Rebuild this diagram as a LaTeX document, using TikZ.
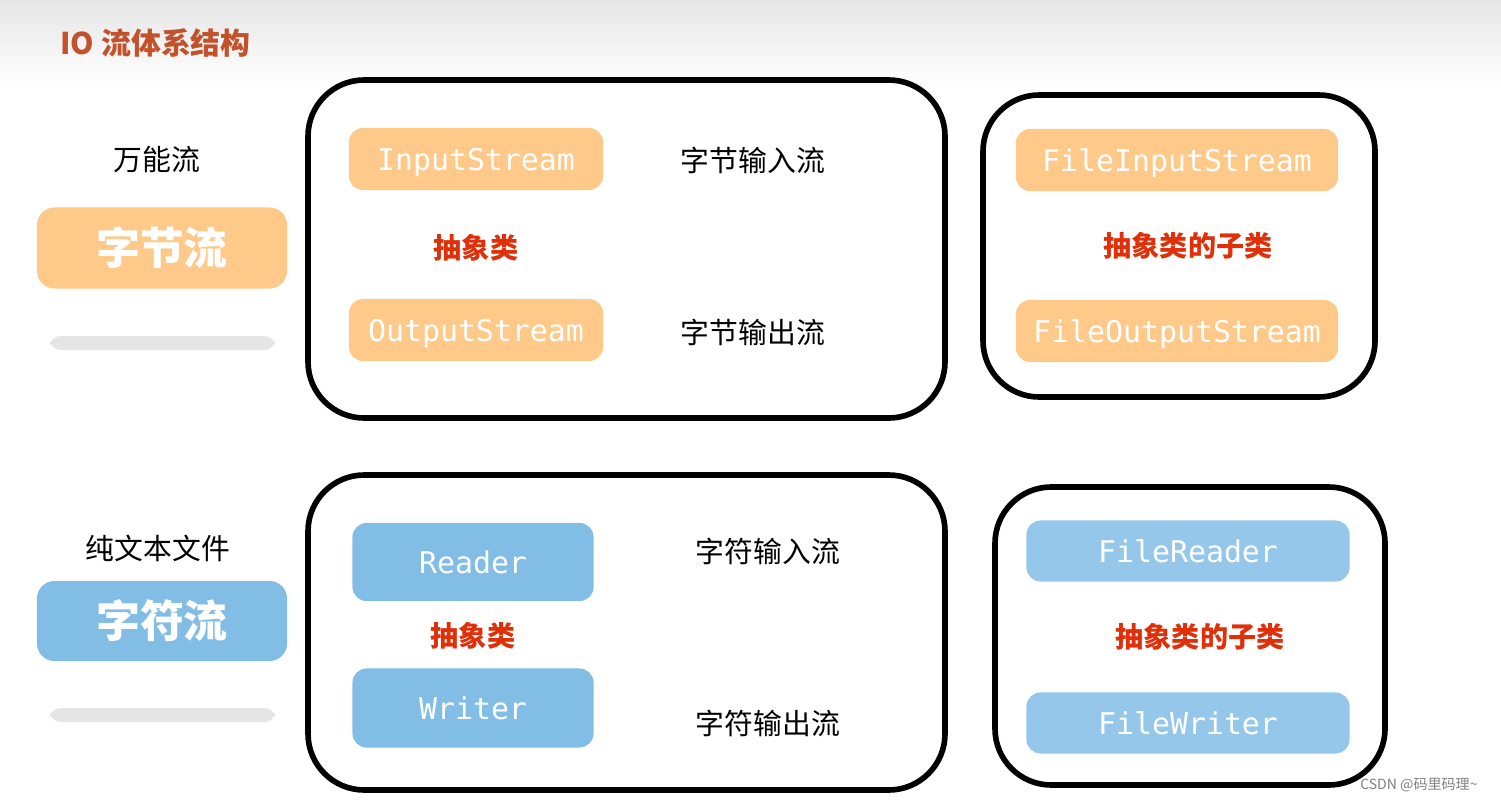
\documentclass[tikz,border=0pt]{standalone}
\usepackage{fontspec}
\newfontfamily\cjk{Noto Sans CJK SC}
\setmonofont{DejaVu Sans Mono}
\definecolor{byteorg}{HTML}{FFC98A}
\definecolor{charblue}{HTML}{82BDE6}
\definecolor{absred}{HTML}{E0300A}
\definecolor{titlec}{HTML}{C2522C}
\begin{document}
\begin{tikzpicture}[x=0.01cm,y=-0.01cm,
  frame/.style={draw,line width=1.6pt,rounded corners=16pt},
  cls/.style={rounded corners=4pt,text=white,text depth=0pt,font=\ttfamily\fontsize{8.5}{10}\selectfont},
  zh/.style={font=\cjk\fontsize{8.2}{9}\selectfont},
  abs/.style={zh,text=absred,font=\cjk\bfseries\fontsize{8}{9}\selectfont},
  big/.style={rounded corners=5pt,text=white,font=\cjk\bfseries\fontsize{12.5}{14}\selectfont}]
\useasboundingbox (0,0) rectangle (1501,803);
\shade[top color=black!10,bottom color=white] (0,0) rectangle (1501,85);
\node[font=\cjk\bfseries\fontsize{8.5}{10}\selectfont,text=titlec,anchor=west] (title) at (48,43) {IO 流体系结构};

% 左侧
\node[zh] (wanneng) at (157,160) {万能流};
\node[big,fill=byteorg,minimum width=2.5cm,minimum height=0.81cm] (bytes) at (162,248) {字节流};
\fill[black!10,rounded corners=3pt] (50,336) rectangle (275,350);
\node[zh] (text) at (158,548) {纯文本文件};
\node[big,fill=charblue,minimum width=2.5cm,minimum height=0.8cm] (chars) at (162,621) {字符流};
\fill[black!10,rounded corners=3pt] (50,708) rectangle (275,722);

% 字节流
\draw[frame] (308,80) rectangle (945,418);
\draw[frame] (983,95) rectangle (1375,397);
\node[cls,fill=byteorg,minimum width=2.54cm,minimum height=0.62cm] (in) at (476,159) {InputStream};
\node[cls,fill=byteorg,minimum width=2.54cm,minimum height=0.62cm] (out) at (476,330) {OutputStream};
\node[abs] (absA) at (476,248) {抽象类};
\node[zh] (inlbl) at (753,160) {字节输入流};
\node[zh] (outlbl) at (753,332) {字节输出流};
\node[cls,fill=byteorg,minimum width=3.22cm,minimum height=0.62cm] (fin) at (1177,160) {FileInputStream};
\node[cls,fill=byteorg,minimum width=3.22cm,minimum height=0.62cm] (fout) at (1177,331) {FileOutputStream};
\node[abs] (subA) at (1188,246) {抽象类的子类};

% 字符流
\draw[frame] (308,475) rectangle (945,790);
\draw[frame] (995,487) rectangle (1385,785);
\node[cls,fill=charblue,minimum width=2.41cm,minimum height=0.78cm] (rd) at (473,562) {Reader};
\node[cls,fill=charblue,minimum width=2.41cm,minimum height=0.79cm] (wr) at (473,708) {Writer};
\node[abs] (absB) at (473,636) {抽象类};
\node[zh] (rdlbl) at (768,551) {字符输入流};
\node[zh] (wrlbl) at (768,723) {字符输出流};
\node[cls,fill=charblue!85,minimum width=3.23cm,minimum height=0.61cm] (frd) at (1188,551) {FileReader};
\node[cls,fill=charblue!85,minimum width=3.23cm,minimum height=0.61cm] (fwr) at (1188,723) {FileWriter};
\node[abs] (subB) at (1200,637) {抽象类的子类};

\node[font=\cjk\fontsize{4}{5}\selectfont,text=black!50,anchor=east] (mark) at (1490,785) {CSDN @码里码理\textasciitilde};
\end{tikzpicture}
\end{document}
